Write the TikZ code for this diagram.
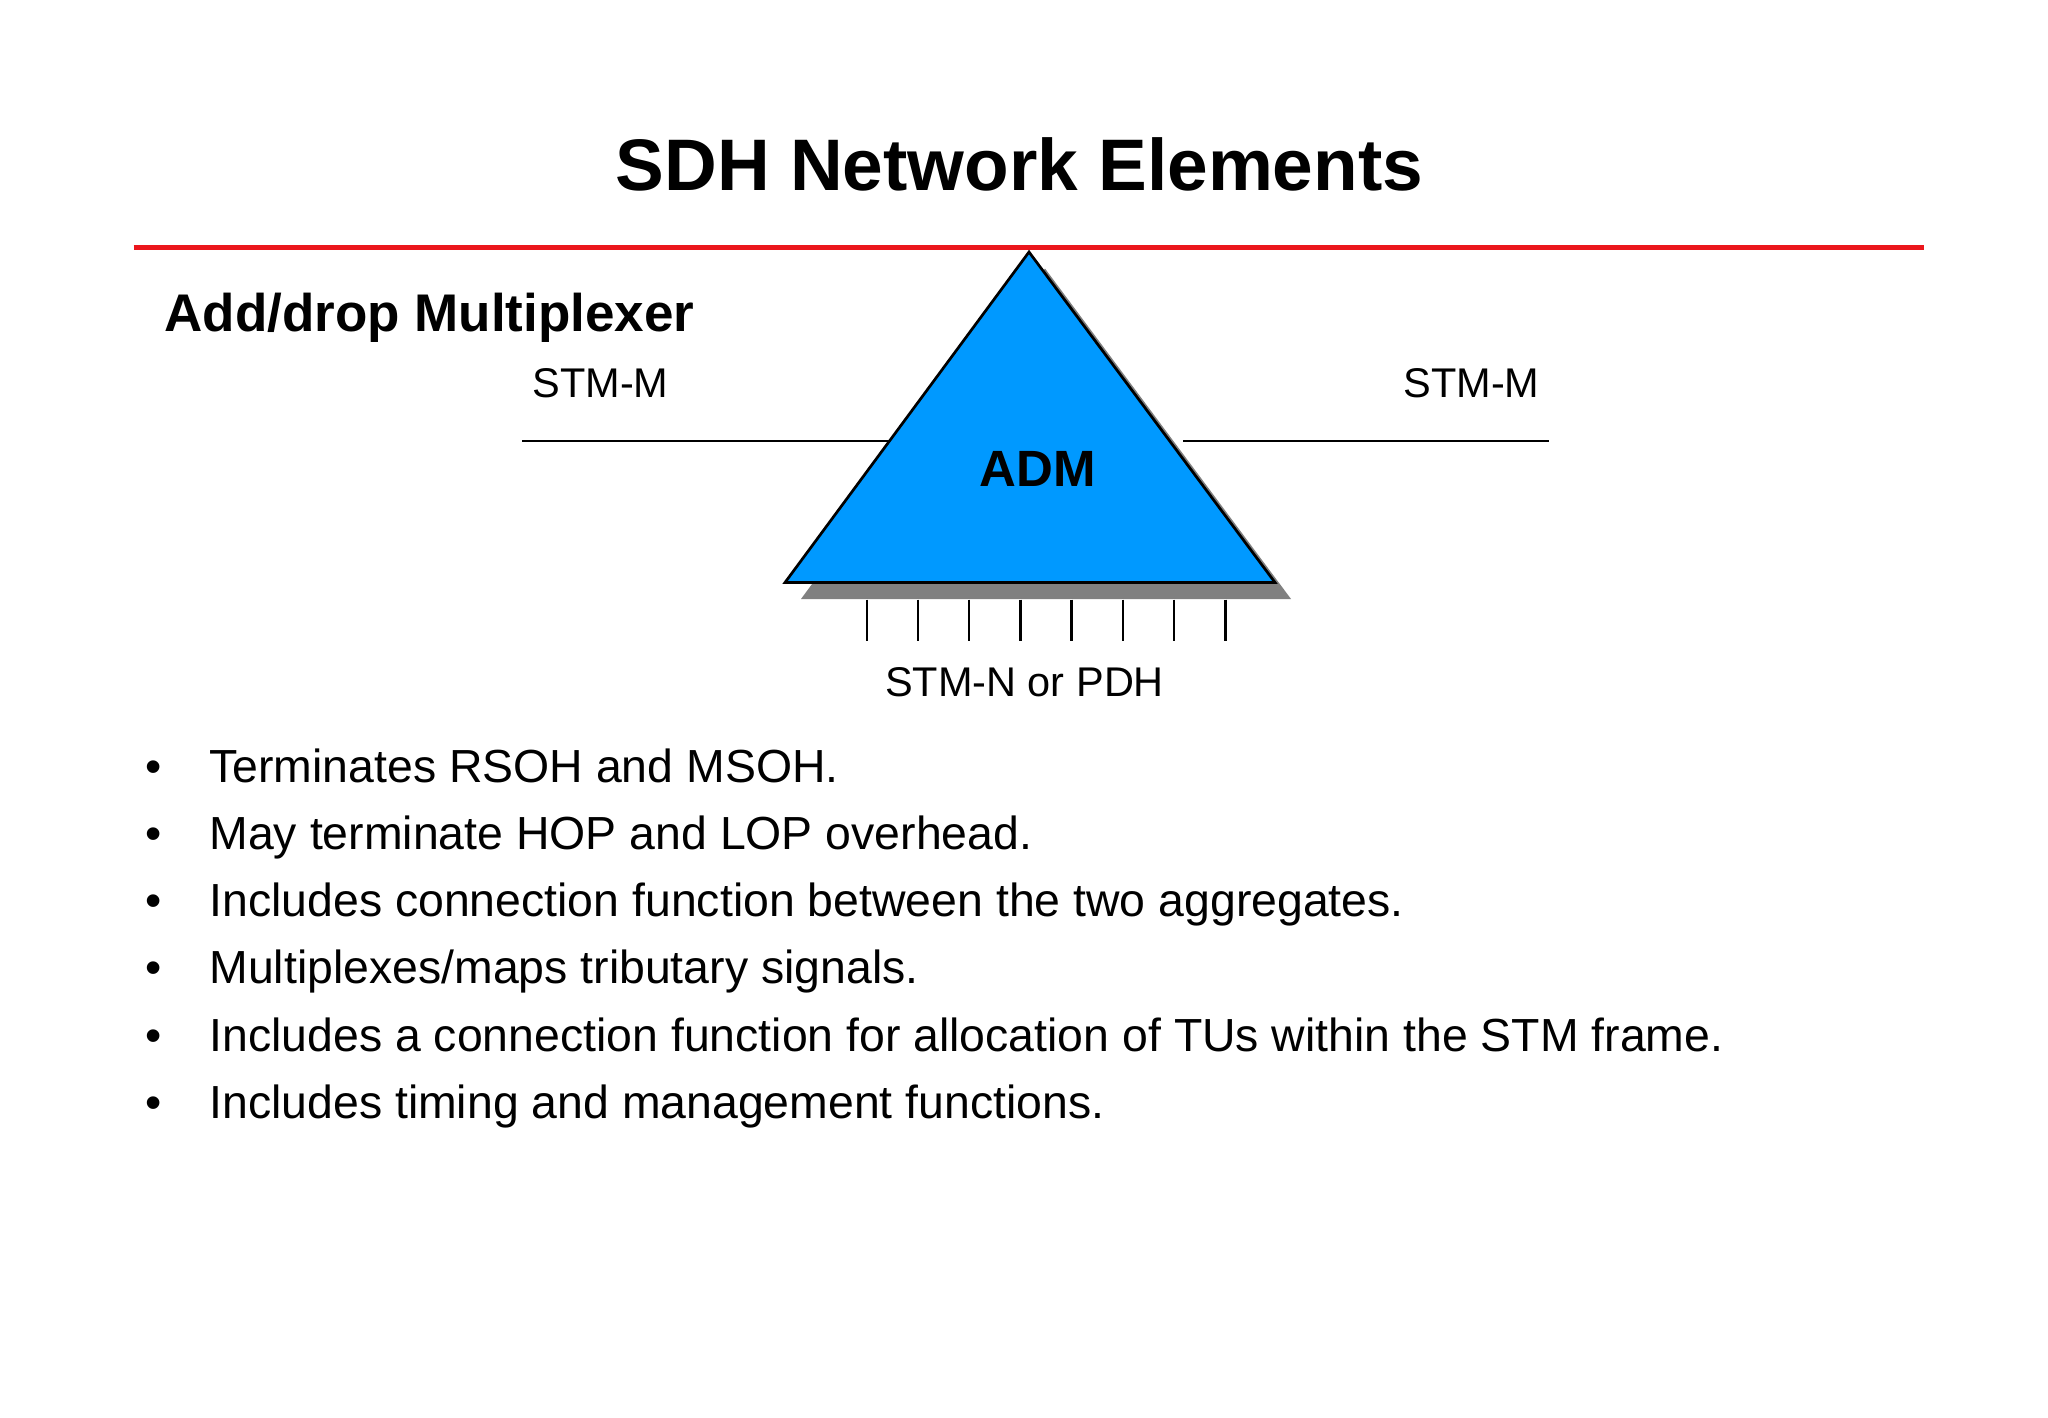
\documentclass[tikz,border=0pt]{standalone}
\usepackage{fontspec}
\setmainfont{Liberation Sans}
\definecolor{admblue}{RGB}{0,153,255}
\definecolor{shadowgray}{RGB}{128,128,128}
\definecolor{rulered}{RGB}{235,22,28}
\begin{document}
\begin{tikzpicture}[x=1pt,y=-1pt,
  txt/.style={inner sep=0pt, outer sep=0pt},
  titletext/.style={txt, anchor=base, font=\bfseries\fontsize{73}{80}\selectfont},
  subtitletext/.style={txt, anchor=base west, font=\bfseries\fontsize{53}{60}\selectfont},
  labeltext/.style={txt, anchor=base, font=\fontsize{41.5}{48}\selectfont},
  admtext/.style={txt, anchor=base, font=\bfseries\fontsize{51}{58}\selectfont},
  bodytext/.style={txt, anchor=base west, font=\fontsize{46.4}{52}\selectfont},
  bullettext/.style={txt, anchor=base, font=\fontsize{46.4}{52}\selectfont},
  wire/.style={draw=black, line width=2.6pt},
  tick/.style={draw=black, line width=2.4pt},
  rule/.style={draw=rulered, line width=4.5pt}]
\useasboundingbox[fill=white] (0,0) rectangle (2048,1418);

% title and rule
\node[titletext] (title) at (1019.5,190) {SDH Network Elements};
\coordinate (ruleL) at (133.5,247.5);
\coordinate (ruleR) at (1924,247.5);
\draw[rule] (ruleL) -- (ruleR);

\node[subtitletext] (sub) at (164.5,331.5) {Add/drop Multiplexer};

% aggregate lines
\coordinate (lineL) at (522,441);
\coordinate (midL) at (1000,441);
\coordinate (lineR) at (1549,441);
\coordinate (midR) at (1183,441);
\draw[wire] (lineL) -- (midL);
\draw[wire] (midR) -- (lineR);

\node[labeltext] (stmL) at (600.5,397.5) {STM-M};
\node[labeltext] (stmR) at (1471.5,397) {STM-M};

% triangle
\coordinate (apex) at (1029,252);
\coordinate (bl) at (785,582.5);
\coordinate (br) at (1275,582.5);
\fill[shadowgray] ([shift={(16,16.5)}]apex) -- ([shift={(16,16.5)}]bl) -- ([shift={(16,16.5)}]br) -- cycle;
\filldraw[fill=admblue, draw=black, line width=2.7pt, line join=miter] (apex) -- (bl) -- (br) -- cycle;
\node[admtext] (adm) at (1037.7,486.5) {ADM};

% tributary ticks
\foreach \i in {0,...,7} {
  \coordinate (t\i a) at ({866.7+51.23*\i},599.5);
  \coordinate (t\i b) at ({866.7+51.23*\i},641);
  \draw[tick] (t\i a) -- (t\i b);
}
\node[labeltext] (trib) at (1024.5,696.5) {STM-N or PDH};

% bullet list
\foreach \txt [count=\k from 0] in {
  {Terminates RSOH and MSOH.},
  {May terminate HOP and LOP overhead.},
  {Includes connection function between the two aggregates.},
  {Multiplexes/maps tributary signals.},
  {Includes a connection function for allocation of TUs within the STM frame.},
  {Includes timing and management functions.}} {
  \node[bullettext] (b\k) at (154,{782+67.3*\k}) {\textbullet};
  \node[bodytext] (l\k) at (209.5,{782+67.3*\k}) {\txt};
}
\end{tikzpicture}
\end{document}
